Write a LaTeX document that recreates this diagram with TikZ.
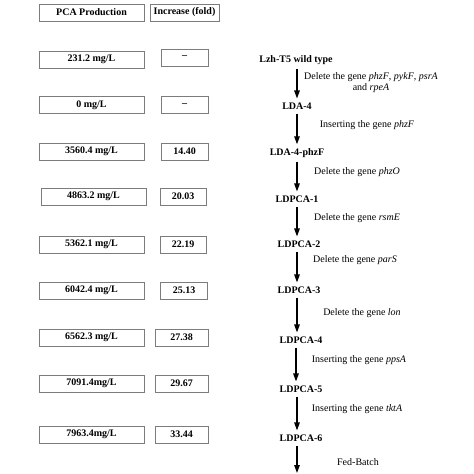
\documentclass[tikz,border=0pt]{standalone}
\usepackage{fontspec}
\setmainfont{Liberation Serif}
\usetikzlibrary{arrows.meta,positioning}
\definecolor{boxgray}{HTML}{7C7C7C}
\tikzset{
  valbox/.style={
    rectangle, draw=boxgray, line width=0.75pt,
    minimum width=#1, minimum height=17pt,
    font=\fontsize{10}{12}\selectfont\bfseries,
    inner sep=0pt
  },
  valbox/.default=105pt,
  strainlabel/.style={
    font=\fontsize{10}{12}\selectfont\bfseries, inner sep=4pt
  },
  steplabel/.style={
    font=\fontsize{10}{11.5}\selectfont, align=center, inner sep=1pt
  },
  flowarrow/.style={
    -{Triangle[length=8pt,width=5.5pt]}, line width=1.3pt, color=black
  },
}

\begin{document}
\begin{tikzpicture}[x=1pt,y=-1pt]
\useasboundingbox (0,0) rectangle (474,474);

% Table headers
\node[valbox] (headprod) at (91.5,12.5) {PCA Production};
\node[valbox=69pt] (headfold) at (184.5,12.5) {Increase (fold)};

% Production values
\node[valbox] (prod1) at (91.5,59.5) {231.2 mg/L};
\node[valbox] (prod2) at (91.5,105) {0 mg/L};
\node[valbox] (prod3) at (91.5,151.5) {3560.4 mg/L};
\node[valbox] (prod4) at (93.5,196.5) {4863.2 mg/L};
\node[valbox] (prod5) at (91.5,244.5) {5362.1 mg/L};
\node[valbox] (prod6) at (91.5,290.5) {6042.4 mg/L};
\node[valbox] (prod7) at (91.5,337.5) {6562.3 mg/L};
\node[valbox] (prod8) at (91.5,383.5) {7091.4mg/L};
\node[valbox] (prod9) at (91.5,434.5) {7963.4mg/L};

% Fold increase
\node[valbox=47pt] (fold1) at (184.5,57.5) {--};
\node[valbox=47pt] (fold2) at (184.5,105) {--};
\node[valbox=47pt] (fold3) at (184.5,151.5) {14.40};
\node[valbox=46pt] (fold4) at (183,196.5) {20.03};
\node[valbox=46pt] (fold5) at (183,244.5) {22.19};
\node[valbox=47pt] (fold6) at (184,290.5) {25.13};
\node[valbox=53pt] (fold7) at (181.5,337.5) {27.38};
\node[valbox=53pt] (fold8) at (181.5,383.5) {29.67};
\node[valbox=53pt] (fold9) at (181.5,434.5) {33.44};

% Strains
\node[strainlabel] (wt) at (296,60) {Lzh-T5 wild type};
\node[strainlabel] (lda4) at (297,106) {LDA-4};
\node[strainlabel] (lda4phzF) at (297,153) {LDA-4-phzF};
\node[strainlabel] (ldpca1) at (297,199) {LDPCA-1};
\node[strainlabel] (ldpca2) at (299,244) {LDPCA-2};
\node[strainlabel] (ldpca3) at (299,290) {LDPCA-3};
\node[strainlabel] (ldpca4) at (301,340) {LDPCA-4};
\node[strainlabel] (ldpca5) at (301,389) {LDPCA-5};
\node[strainlabel] (ldpca6) at (301,438) {LDPCA-6};
\coordinate (fedend) at (297,473);

% Steps
\draw[flowarrow] (wt.south -| 297,0) -- (lda4.north -| 297,0);
\draw[flowarrow] (lda4.south -| 297,0) -- (lda4phzF.north -| 297,0);
\draw[flowarrow] (lda4phzF.south -| 297,0) -- (ldpca1.north -| 297,0);
\draw[flowarrow] (ldpca1.south -| 297,0) -- (ldpca2.north -| 297,0);
\draw[flowarrow] (ldpca2.south -| 297,0) -- (ldpca3.north -| 297,0);
\draw[flowarrow] (ldpca3.south -| 297,0) -- (ldpca4.north -| 297,0);
\draw[flowarrow] (ldpca4.south -| 296,0) -- (ldpca5.north -| 296,0);
\draw[flowarrow] (ldpca5.south -| 297,0) -- (ldpca6.north -| 297,0);
\draw[flowarrow] (ldpca6.south -| 297,0) -- (fedend);

% Step texts
\node[steplabel] (step1) at (371,82.5) {Delete the gene \textit{phzF}, \textit{pykF}, \textit{psrA}\\and \textit{rpeA}};
\node[steplabel] (step2) at (367,125) {Inserting the gene \textit{phzF}};
\node[steplabel] (step3) at (357,172) {Delete the gene \textit{phzO}};
\node[steplabel] (step4) at (357,218) {Delete the gene \textit{rsmE}};
\node[steplabel] (step5) at (355,260) {Delete the gene \textit{parS}};
\node[steplabel] (step6) at (362,313) {Delete the gene \textit{lon}};
\node[steplabel] (step7) at (359,360) {Inserting the gene \textit{ppsA}};
\node[steplabel] (step8) at (357,409) {Inserting the gene \textit{tktA}};
\node[steplabel] (step9) at (358,462) {Fed-Batch};

\end{tikzpicture}
\end{document}
